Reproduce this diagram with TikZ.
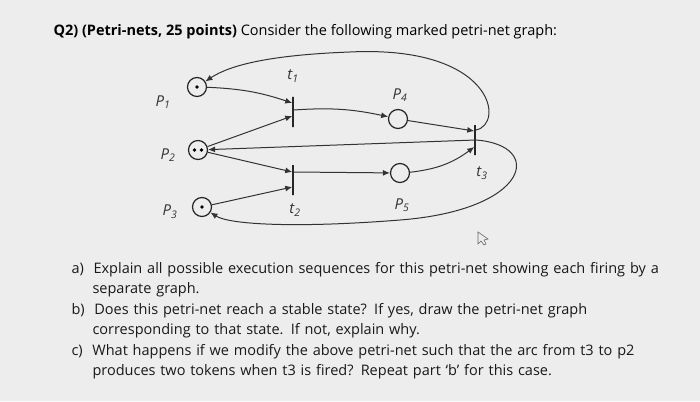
\documentclass[tikz,border=0pt]{standalone}
\usepackage{fontspec}
\setmainfont{Open Sans}
\usetikzlibrary{arrows.meta}
\begin{document}
\begin{tikzpicture}[x=1pt,y=-1pt,
 pl/.style={circle,draw=black!85,line width=1.2pt,minimum size=19pt,inner sep=0},
 tr/.style={draw=black!85,line width=1.5pt,minimum width=0pt,inner sep=0,minimum height=30pt},
 arc/.style={draw=black!80,line width=1pt,-{Latex[length=7pt,width=6pt]}},
 hl/.style={font=\itshape\fontsize{15}{15}\selectfont,text=black!80},
 tok/.style={circle,fill=black,inner sep=1.4pt},
 txt/.style={anchor=north west,align=left,font=\fontsize{14.5}{20}\selectfont,text=black!90}]
\fill[black!7] (0,0) rectangle (700,401);
\node[font=\fontsize{14.5}{16}\selectfont,anchor=west] (hd) at (50,32) {\textbf{Q2) (Petri-nets, 25 points)} Consider the following marked petri-net graph:};
\node[pl] (p1) at (197,87) {}; \node[tok] at (p1) {};
\node[pl] (p2) at (198,150) {}; \node[tok] at (194.5,150) {}; \node[tok] at (201.5,150) {};
\node[pl] (p3) at (202,207) {}; \node[tok] at (p3) {};
\node[pl] (p4) at (398,119) {};
\node[pl] (p5) at (400,173) {};
\node[tr] (t1) at (293,112) {};
\node[tr] (t2) at (293,180) {};
\node[tr] (t3) at (475,140) {};
\node[hl] (l1) at (163,102) {P\textsubscript{1}};
\node[hl] (l2) at (168,155) {P\textsubscript{2}};
\node[hl] (l3) at (170,212) {P\textsubscript{3}};
\node[hl] (l4) at (400,95) {P\textsubscript{4}};
\node[hl] (l5) at (402,205) {P\textsubscript{5}};
\node[hl] (lt1) at (293,76) {t\textsubscript{1}};
\node[hl] (lt2) at (295,210) {t\textsubscript{2}};
\node[hl] (lt3) at (482,173) {t\textsubscript{3}};
\draw[arc] (p1) to[bend left=8] (t1.west|-0,103);
\draw[arc] (p2) -- (t1.west|-0,116);
\draw[arc] (p2) -- (t2.west|-0,172);
\draw[arc] (p3) -- (t2.west|-0,187);
\draw[arc] (t1.east|-0,110) to[bend left=8] (p4);
\draw[arc] (t2.east|-0,172) -- (p5);
\draw[arc] (p4) -- (t3.west|-0,131);
\draw[arc] (p5) to[bend right=15] (t3.west|-0,147);
\draw[arc] (t3.east|-0,130) .. controls (505,125) and (495,45) .. (350,52) .. controls (270,55) and (230,65) .. (p1);
\draw[arc] (t3.east|-0,140) -- (p2);
\draw[arc] (t3.east|-0,140) .. controls (545,145) and (530,210) .. (400,220) .. controls (300,228) and (230,225) .. (p3);
\draw[black!60,line width=0.6pt] (478,232) -- (478,244) -- (481,241) -- (484,245) -- (486,244) -- (484,240) -- (488,239) -- cycle;
\node[txt,text width=610pt] (a) at (68,259) {a)\ \ Explain all possible execution sequences for this petri-net showing each firing by a\\\hspace*{21pt}separate graph.};
\node[txt,text width=610pt] (b) at (68,300) {b)\ \ Does this petri-net reach a stable state? If yes, draw the petri-net graph\\\hspace*{21pt}corresponding to that state. If not, explain why.};
\node[txt,text width=610pt] (c) at (68,341) {c)\ \ What happens if we modify the above petri-net such that the arc from t3 to p2\\\hspace*{21pt}produces two tokens when t3 is fired? Repeat part `b' for this case.};
\end{tikzpicture}
\end{document}
